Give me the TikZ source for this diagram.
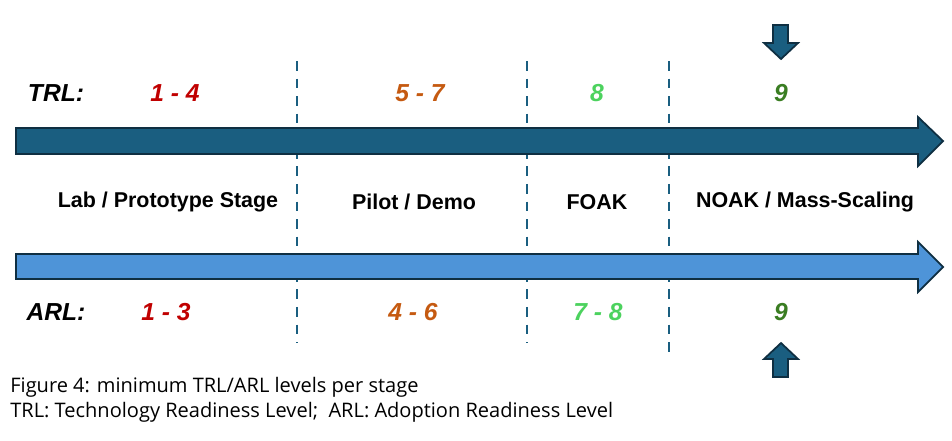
\documentclass[tikz,border=0pt]{standalone}
\usepackage{fontspec}
\setmainfont{Liberation Sans}
\newfontfamily\capfont{Open Sans}
\usepackage{xcolor}
\usetikzlibrary{positioning, calc}

\definecolor{trlblue}{HTML}{1A5E80}
\definecolor{arlblue}{HTML}{4E94D8}
\definecolor{edgeblue}{HTML}{0F2F42}
\definecolor{lvred}{HTML}{C00000}
\definecolor{lvorange}{HTML}{C55A11}
\definecolor{lvlight}{HTML}{4CD25E}
\definecolor{lvdark}{HTML}{3A7D22}

\begin{document}
\begin{tikzpicture}[x=0.02cm, y=-0.02cm]

		\tikzstyle{bar}=[draw=edgeblue, line width=1pt, line join=miter]
		\tikzstyle{sep}=[draw=trlblue, line width=1.1pt, dash pattern=on 5.5pt off 4.5pt]
		\tikzstyle{lvl}=[font=\fontsize{14}{16}\selectfont\bfseries\itshape]
		\tikzstyle{stage}=[font=\fontsize{12.2}{14}\selectfont\bfseries]
		\tikzstyle{capt}=[font=\capfont\fontsize{11.4}{13}\selectfont, anchor=west, inner sep=0pt]

		\useasboundingbox (0,0) rectangle (952,440);

		% stage separators
		\draw [sep] (297,61) -- (297,343);
		\draw [sep] (527,61) -- (527,343);
		\draw [sep] (669,61) -- (669,353);

		% TRL and ARL bars
		\draw [bar, fill=trlblue] (16,128) -- (918,128) -- (918,117) -- (943,141)
			-- (918,166) -- (918,154) -- (16,154) -- cycle;
		\draw [bar, fill=arlblue] (16,254) -- (918,254) -- (918,242) -- (943,267)
			-- (918,292) -- (918,279) -- (16,279) -- cycle;

		% markers for level 9
		\draw [bar, fill=trlblue] (773,25) -- (788,25) -- (788,43) -- (798,43)
			-- (781,59) -- (764,43) -- (773,43) -- cycle;
		\draw [bar, fill=trlblue] (773,377) -- (788,377) -- (788,359) -- (798,359)
			-- (781,343) -- (764,359) -- (773,359) -- cycle;

		\node (trl) at (56,93) [lvl] {TRL:};
		\node (trla) at (175,93) [lvl, text=lvred] {1 - 4};
		\node (trlb) at (420,93) [lvl, text=lvorange] {5 - 7};
		\node (trlc) at (597,93) [lvl, text=lvlight] {8};
		\node (trld) at (781,93) [lvl, text=lvdark] {9};

		\node (lab) at (168,202) [stage] {Lab / Prototype Stage};
		\node (pilot) at (414,202) [stage] {Pilot / Demo};
		\node (foak) at (597,202) [stage] {FOAK};
		\node (noak) at (805,202) [stage] {NOAK / Mass-Scaling};

		\node (arl) at (56,312) [lvl] {ARL:};
		\node (arla) at (166,312) [lvl, text=lvred] {1 - 3};
		\node (arlb) at (413,312) [lvl, text=lvorange] {4 - 6};
		\node (arlc) at (598,312) [lvl, text=lvlight] {7 - 8};
		\node (arld) at (781,312) [lvl, text=lvdark] {9};

		\node (cap1) at (10,387) [capt] {Figure 4: minimum TRL/ARL levels per stage};
		\node (cap2) at (10,412) [capt] {TRL: Technology Readiness Level;\ \ ARL: Adoption Readiness Level};

\end{tikzpicture}
\end{document}
